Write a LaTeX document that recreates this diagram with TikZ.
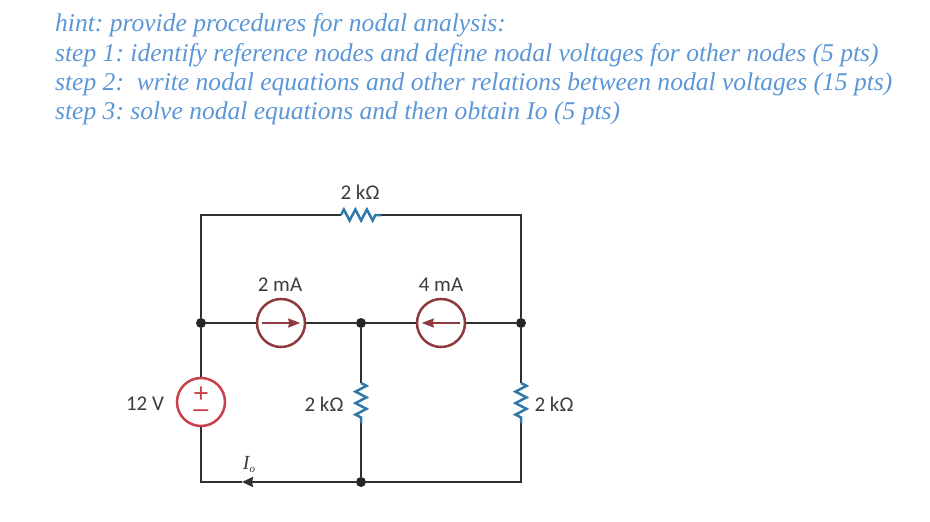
\documentclass[tikz,border=0pt]{standalone}
\usepackage{fontspec}
\setmainfont{Liberation Serif}
\newfontfamily\labelfont{Carlito}
\newfontfamily\signfont{Liberation Sans}
\usetikzlibrary{shapes, arrows.meta, positioning, calc, decorations.pathmorphing}
\definecolor{hintblue}{HTML}{5B96D6}
\definecolor{resblue}{HTML}{2F78A8}
\definecolor{srcred}{HTML}{C8414B}
\definecolor{srcmaroon}{HTML}{8E3A3E}
\definecolor{wiregray}{HTML}{303030}
\definecolor{labelgray}{HTML}{3C3C3C}
\tikzset{
  hint/.style={text=hintblue, anchor=base west, inner sep=0pt, font=\fontsize{25.55}{28}\selectfont\itshape\frenchspacing},
  wire/.style={draw=wiregray, line width=2.7pt},
  dot/.style={circle, fill=black!85, inner sep=0pt, minimum size=10pt},
  isrc/.style={circle, draw=srcmaroon, line width=2.5pt, minimum size=48pt, inner sep=0pt},
  vsrc/.style={circle, draw=srcred, line width=2.5pt, minimum size=48pt, inner sep=0pt},
  res/.style={draw=resblue, line width=2.5pt, decorate, decoration={zigzag, segment length=11.5pt, amplitude=5.5pt}},
  flow/.style={draw=srcmaroon, line width=1.6pt, -{Stealth[length=12pt, width=9pt, inset=1pt]}, shorten <=6pt, shorten >=6pt},
  sign/.style={text=srcred, inner sep=0pt, font=\signfont\fontsize{27}{27}\selectfont},
  val/.style={text=labelgray, inner sep=0pt, font=\labelfont\fontsize{21}{22}\selectfont}
}
\begin{document}
\begin{tikzpicture}[x=1pt, y=-1pt]
\useasboundingbox (0,0) rectangle (930,522);
% hint text
\node[hint] (hint_a) at (55,31.6) {hint: provide procedures for nodal analysis:};
\node[hint] (hint_b) at (55,61.4) {step 1: identify reference nodes and define nodal voltages for other nodes (5 pts)};
\node[hint] (hint_c) at (55,90.6) {step 2:\ \ write nodal equations and other relations between nodal voltages (15 pts)};
\node[hint] (hint_d) at (55,119.6) {step 3: solve nodal equations and then obtain Io (5 pts)};
% corners and junctions
\coordinate (top_l) at (201,215);
\coordinate (top_r) at (521,215);
\coordinate (bot_l) at (201,482);
\coordinate (bot_r) at (521,482);
\node[dot] (j_left) at (201,323) {};
\node[dot] (j_mid) at (361,323) {};
\node[dot] (j_right) at (521,323) {};
\node[dot] (j_bot) at (361,482) {};
% sources
\node[isrc] (src_a) at (281,323) {};
\node[isrc] (src_b) at (441,323) {};
\node[vsrc] (src_v) at (201,402) {};
\node[sign] (v_plus) at (201,395) {+};
\node[sign] (v_minus) at (201,414) {–};
% resistor ends
\coordinate (rt_l) at (341,215);
\coordinate (rt_r) at (381,215);
\coordinate (rm_t) at (361,383);
\coordinate (rm_b) at (361,423);
\coordinate (rr_t) at (521,383);
\coordinate (rr_b) at (521,423);
\coordinate (io_tip) at (242,482);
% wires
\draw[wire] (src_v.north) -- (j_left) -- (top_l) -- (rt_l);
\draw[wire] (rt_r) -- (top_r) -- (j_right) -- (rr_t);
\draw[wire] (rr_b) -- (bot_r) -- (j_bot) -- (rm_b);
\draw[wire] (rm_t) -- (j_mid);
\draw[wire] (j_left) -- (src_a.west);
\draw[wire] (src_a.east) -- (j_mid) -- (src_b.west);
\draw[wire] (src_b.east) -- (j_right);
\draw[wire, -{Stealth[length=11pt, width=10pt, inset=1pt]}] (j_bot) -- (io_tip);
\draw[wire] (io_tip) -- (bot_l) -- (src_v.south);
\draw[res] (rt_l) -- (rt_r);
\draw[res] (rm_t) -- (rm_b);
\draw[res] (rr_t) -- (rr_b);
\draw[flow] (src_a.west) -- (src_a.east);
\draw[flow] (src_b.east) -- (src_b.west);
% labels
\node[val] (lab_top) at (360,192) {2 kΩ};
\node[val] (lab_a) at (280,285) {2 mA};
\node[val] (lab_b) at (441,285) {4 mA};
\node[val] (lab_v) at (145,404) {12 V};
\node[val] (lab_m) at (324,404) {2 kΩ};
\node[val] (lab_r) at (554,404) {2 kΩ};
\node[text=labelgray, inner sep=0pt, font=\fontsize{20}{20}\selectfont\itshape] (lab_io) at (249,465) {I\raisebox{-3pt}{\fontsize{11}{11}\selectfont o}};
\end{tikzpicture}
\end{document}
